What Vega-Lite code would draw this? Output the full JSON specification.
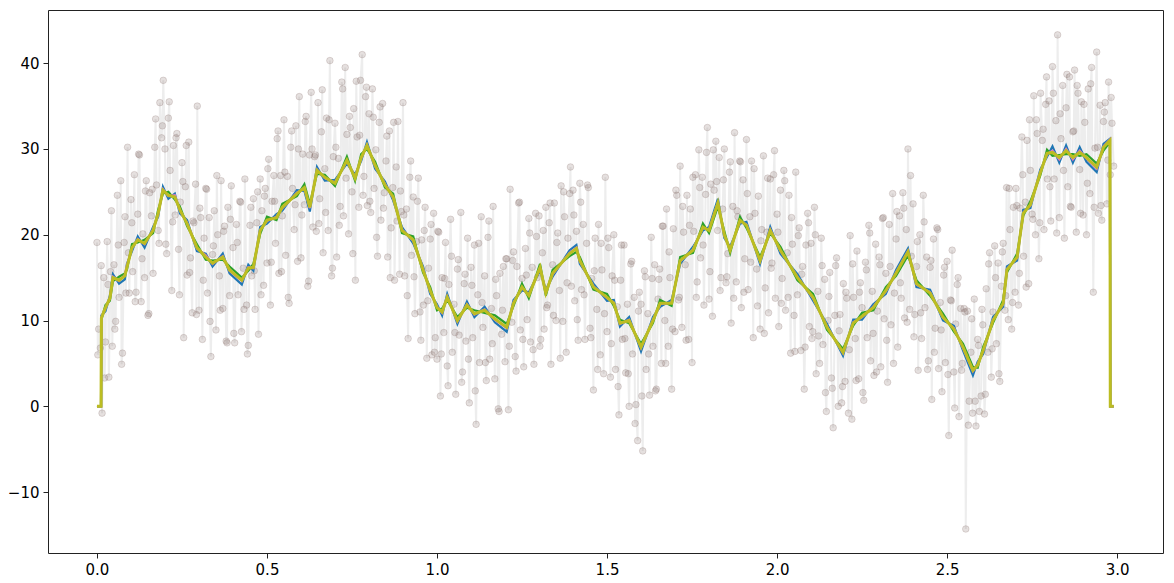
{
  "$schema": "https://vega.github.io/schema/vega-lite/v6.json",
  "autosize": {"type": "none"},
  "padding": {"left": 48, "top": 10, "right": 11, "bottom": 30},
  "width": 1115,
  "height": 543,
  "background": "white",
  "datasets": {
    "obs": [
      {"x":0.000,"y":19.1},{"x":0.005,"y":9.0},{"x":0.010,"y":6.8},{"x":0.015,"y":-0.8},{"x":0.020,"y":15.0},{"x":0.025,"y":7.5},{"x":0.030,"y":19.2},{"x":0.035,"y":3.4},{"x":0.040,"y":15.7},{"x":0.045,"y":7.0},
      {"x":0.050,"y":16.5},{"x":0.055,"y":9.9},{"x":0.060,"y":24.6},{"x":0.065,"y":12.7},{"x":0.070,"y":26.3},{"x":0.075,"y":6.2},{"x":0.080,"y":19.1},{"x":0.085,"y":13.2},{"x":0.090,"y":30.2},{"x":0.095,"y":13.2},
      {"x":0.100,"y":24.1},{"x":0.105,"y":15.7},{"x":0.110,"y":27.0},{"x":0.115,"y":13.3},{"x":0.120,"y":22.4},{"x":0.125,"y":29.3},{"x":0.130,"y":12.2},{"x":0.135,"y":20.1},{"x":0.140,"y":15.0},{"x":0.145,"y":26.3},
      {"x":0.150,"y":10.6},{"x":0.155,"y":24.9},{"x":0.160,"y":22.2},{"x":0.165,"y":15.5},{"x":0.170,"y":30.2},{"x":0.175,"y":25.8},{"x":0.180,"y":20.5},{"x":0.185,"y":35.4},{"x":0.190,"y":31.3},{"x":0.195,"y":38.0},
      {"x":0.200,"y":30.0},{"x":0.205,"y":17.8},{"x":0.210,"y":33.6},{"x":0.215,"y":27.5},{"x":0.220,"y":13.5},{"x":0.225,"y":30.4},{"x":0.230,"y":22.3},{"x":0.235,"y":31.8},{"x":0.240,"y":18.3},{"x":0.245,"y":23.8},
      {"x":0.250,"y":28.4},{"x":0.255,"y":8.0},{"x":0.260,"y":25.6},{"x":0.265,"y":15.3},{"x":0.270,"y":30.8},{"x":0.275,"y":17.3},{"x":0.280,"y":10.9},{"x":0.285,"y":21.4},{"x":0.290,"y":25.9},{"x":0.295,"y":35.0},
      {"x":0.300,"y":11.2},{"x":0.305,"y":22.0},{"x":0.310,"y":7.8},{"x":0.315,"y":19.6},{"x":0.320,"y":25.4},{"x":0.325,"y":13.2},{"x":0.330,"y":22.0},{"x":0.335,"y":5.8},{"x":0.340,"y":17.7},{"x":0.345,"y":22.8},
      {"x":0.350,"y":8.9},{"x":0.355,"y":20.0},{"x":0.360,"y":15.2},{"x":0.365,"y":26.3},{"x":0.370,"y":11.4},{"x":0.375,"y":21.0},{"x":0.380,"y":7.6},{"x":0.385,"y":23.2},{"x":0.390,"y":12.9},{"x":0.395,"y":25.7},
      {"x":0.400,"y":18.5},{"x":0.405,"y":7.4},{"x":0.410,"y":21.2},{"x":0.415,"y":13.0},{"x":0.420,"y":23.9},{"x":0.425,"y":8.7},{"x":0.430,"y":16.1},{"x":0.435,"y":26.5},{"x":0.440,"y":11.8},{"x":0.445,"y":7.1},
      {"x":0.450,"y":21.1},{"x":0.455,"y":15.2},{"x":0.460,"y":24.2},{"x":0.465,"y":11.3},{"x":0.470,"y":21.4},{"x":0.475,"y":8.4},{"x":0.480,"y":26.5},{"x":0.485,"y":22.8},{"x":0.490,"y":14.1},{"x":0.495,"y":25.4},
      {"x":0.500,"y":16.7},{"x":0.505,"y":28.8},{"x":0.510,"y":11.8},{"x":0.515,"y":23.9},{"x":0.520,"y":26.9},{"x":0.525,"y":19.0},{"x":0.530,"y":31.2},{"x":0.535,"y":15.5},{"x":0.540,"y":26.9},{"x":0.545,"y":22.2},
      {"x":0.550,"y":33.4},{"x":0.555,"y":17.6},{"x":0.560,"y":26.8},{"x":0.565,"y":12.0},{"x":0.570,"y":30.2},{"x":0.575,"y":25.4},{"x":0.580,"y":20.6},{"x":0.585,"y":32.7},{"x":0.590,"y":16.9},{"x":0.595,"y":36.1},
      {"x":0.600,"y":17.3},{"x":0.605,"y":29.4},{"x":0.610,"y":23.5},{"x":0.615,"y":33.8},{"x":0.620,"y":14.0},{"x":0.625,"y":29.3},{"x":0.630,"y":36.6},{"x":0.635,"y":20.9},{"x":0.640,"y":29.1},{"x":0.645,"y":20.4},
      {"x":0.650,"y":35.4},{"x":0.655,"y":24.2},{"x":0.660,"y":32.0},{"x":0.665,"y":17.9},{"x":0.670,"y":27.7},{"x":0.675,"y":33.6},{"x":0.680,"y":20.5},{"x":0.685,"y":40.3},{"x":0.690,"y":15.2},{"x":0.695,"y":29.1},
      {"x":0.700,"y":33.0},{"x":0.705,"y":17.4},{"x":0.710,"y":28.9},{"x":0.715,"y":23.3},{"x":0.720,"y":37.8},{"x":0.725,"y":22.2},{"x":0.730,"y":39.5},{"x":0.735,"y":31.7},{"x":0.740,"y":20.1},{"x":0.745,"y":32.5},
      {"x":0.750,"y":25.0},{"x":0.755,"y":34.7},{"x":0.760,"y":14.7},{"x":0.765,"y":31.4},{"x":0.770,"y":23.2},{"x":0.775,"y":38.0},{"x":0.780,"y":41.0},{"x":0.785,"y":26.8},{"x":0.790,"y":36.1},{"x":0.795,"y":23.4},
      {"x":0.800,"y":34.1},{"x":0.805,"y":22.6},{"x":0.810,"y":37.0},{"x":0.815,"y":25.4},{"x":0.820,"y":29.9},{"x":0.825,"y":17.5},{"x":0.830,"y":33.1},{"x":0.835,"y":21.7},{"x":0.840,"y":35.3},{"x":0.845,"y":24.9},
      {"x":0.850,"y":28.6},{"x":0.855,"y":17.4},{"x":0.860,"y":32.1},{"x":0.865,"y":20.8},{"x":0.870,"y":25.5},{"x":0.875,"y":14.7},{"x":0.880,"y":27.9},{"x":0.885,"y":33.2},{"x":0.890,"y":15.4},{"x":0.895,"y":22.7},
      {"x":0.900,"y":35.4},{"x":0.905,"y":15.2},{"x":0.910,"y":23.0},{"x":0.915,"y":7.9},{"x":0.920,"y":26.7},{"x":0.925,"y":17.6},{"x":0.930,"y":24.4},{"x":0.935,"y":10.8},{"x":0.940,"y":19.2},{"x":0.945,"y":26.6},
      {"x":0.950,"y":11.0},{"x":0.955,"y":19.4},{"x":0.960,"y":11.8},{"x":0.965,"y":23.2},{"x":0.970,"y":5.6},{"x":0.975,"y":16.1},{"x":0.980,"y":19.5},{"x":0.985,"y":6.0},{"x":0.990,"y":22.5},{"x":0.995,"y":8.0},
      {"x":1.000,"y":5.5},{"x":1.005,"y":20.3},{"x":1.010,"y":1.2},{"x":1.015,"y":15.0},{"x":1.020,"y":8.6},{"x":1.025,"y":19.1},{"x":1.030,"y":4.7},{"x":1.035,"y":14.2},{"x":1.040,"y":21.8},{"x":1.045,"y":6.3},
      {"x":1.050,"y":11.9},{"x":1.055,"y":1.4},{"x":1.060,"y":16.0},{"x":1.065,"y":8.3},{"x":1.070,"y":22.6},{"x":1.075,"y":4.0},{"x":1.080,"y":14.3},{"x":1.085,"y":7.6},{"x":1.090,"y":19.6},{"x":1.095,"y":0.4},
      {"x":1.100,"y":16.2},{"x":1.105,"y":8.0},{"x":1.110,"y":18.8},{"x":1.115,"y":-2.1},{"x":1.120,"y":13.0},{"x":1.125,"y":5.1},{"x":1.130,"y":22.1},{"x":1.135,"y":9.2},{"x":1.140,"y":15.2},{"x":1.145,"y":3.0},
      {"x":1.150,"y":19.7},{"x":1.155,"y":5.5},{"x":1.160,"y":11.4},{"x":1.165,"y":23.3},{"x":1.170,"y":3.2},{"x":1.175,"y":12.9},{"x":1.180,"y":-0.3},{"x":1.185,"y":15.5},{"x":1.190,"y":8.4},{"x":1.195,"y":16.3},
      {"x":1.200,"y":5.2},{"x":1.205,"y":17.2},{"x":1.210,"y":-0.4},{"x":1.215,"y":25.3},{"x":1.220,"y":9.8},{"x":1.225,"y":18.0},{"x":1.230,"y":5.8},{"x":1.235,"y":16.3},{"x":1.240,"y":23.7},{"x":1.245,"y":8.9},
      {"x":1.250,"y":14.9},{"x":1.255,"y":4.6},{"x":1.260,"y":18.4},{"x":1.265,"y":10.1},{"x":1.270,"y":21.9},{"x":1.275,"y":7.5},{"x":1.280,"y":16.2},{"x":1.285,"y":4.9},{"x":1.290,"y":22.5},{"x":1.295,"y":15.0},
      {"x":1.300,"y":22.2},{"x":1.305,"y":7.8},{"x":1.310,"y":17.9},{"x":1.315,"y":9.0},{"x":1.320,"y":23.2},{"x":1.325,"y":11.8},{"x":1.330,"y":21.4},{"x":1.335,"y":4.9},{"x":1.340,"y":16.5},{"x":1.345,"y":23.7},
      {"x":1.350,"y":10.0},{"x":1.355,"y":20.2},{"x":1.360,"y":13.5},{"x":1.365,"y":25.7},{"x":1.370,"y":9.9},{"x":1.375,"y":22.1},{"x":1.380,"y":6.3},{"x":1.385,"y":19.6},{"x":1.390,"y":24.8},{"x":1.395,"y":14.0},
      {"x":1.400,"y":25.2},{"x":1.405,"y":12.3},{"x":1.410,"y":20.4},{"x":1.415,"y":7.7},{"x":1.420,"y":26.0},{"x":1.425,"y":13.6},{"x":1.430,"y":21.2},{"x":1.435,"y":7.8},{"x":1.440,"y":19.0},{"x":1.445,"y":25.5},
      {"x":1.450,"y":9.1},{"x":1.455,"y":14.9},{"x":1.460,"y":1.9},{"x":1.465,"y":19.6},{"x":1.470,"y":11.3},{"x":1.475,"y":21.2},{"x":1.480,"y":6.0},{"x":1.485,"y":15.9},{"x":1.490,"y":3.8},{"x":1.495,"y":26.7},
      {"x":1.500,"y":8.7},{"x":1.505,"y":18.5},{"x":1.510,"y":3.4},{"x":1.515,"y":15.2},{"x":1.520,"y":20.0},{"x":1.525,"y":4.3},{"x":1.530,"y":11.6},{"x":1.535,"y":-1.0},{"x":1.540,"y":14.7},{"x":1.545,"y":7.8},
      {"x":1.550,"y":18.8},{"x":1.555,"y":3.9},{"x":1.560,"y":11.9},{"x":1.565,"y":0.0},{"x":1.570,"y":16.6},{"x":1.575,"y":6.1},{"x":1.580,"y":12.7},{"x":1.585,"y":0.2},{"x":1.590,"y":-4.0},{"x":1.595,"y":13.3},
      {"x":1.600,"y":11.9},{"x":1.605,"y":-5.2},{"x":1.610,"y":15.8},{"x":1.615,"y":4.3},{"x":1.620,"y":10.8},{"x":1.625,"y":1.3},{"x":1.630,"y":19.7},{"x":1.635,"y":7.0},{"x":1.640,"y":16.5},{"x":1.645,"y":2.0},
      {"x":1.650,"y":12.5},{"x":1.655,"y":16.0},{"x":1.660,"y":5.0},{"x":1.665,"y":21.0},{"x":1.670,"y":10.0},{"x":1.675,"y":23.0},{"x":1.680,"y":7.0},{"x":1.685,"y":15.0},{"x":1.690,"y":2.0},{"x":1.695,"y":20.7},
      {"x":1.700,"y":8.7},{"x":1.705,"y":24.6},{"x":1.710,"y":12.4},{"x":1.715,"y":28.0},{"x":1.720,"y":9.2},{"x":1.725,"y":20.3},{"x":1.730,"y":16.5},{"x":1.735,"y":24.6},{"x":1.740,"y":7.8},{"x":1.745,"y":23.0},
      {"x":1.750,"y":5.1},{"x":1.755,"y":20.4},{"x":1.760,"y":27.0},{"x":1.765,"y":14.5},{"x":1.770,"y":29.9},{"x":1.775,"y":17.3},{"x":1.780,"y":26.7},{"x":1.785,"y":11.8},{"x":1.790,"y":24.7},{"x":1.795,"y":32.5},
      {"x":1.800,"y":12.5},{"x":1.805,"y":25.9},{"x":1.810,"y":10.5},{"x":1.815,"y":25.2},{"x":1.820,"y":30.9},{"x":1.825,"y":20.5},{"x":1.830,"y":29.0},{"x":1.835,"y":15.0},{"x":1.840,"y":23.0},{"x":1.845,"y":30.0},
      {"x":1.850,"y":14.4},{"x":1.855,"y":17.8},{"x":1.860,"y":27.3},{"x":1.865,"y":9.7},{"x":1.870,"y":23.3},{"x":1.875,"y":31.9},{"x":1.880,"y":14.5},{"x":1.885,"y":22.1},{"x":1.890,"y":28.6},{"x":1.895,"y":11.5},
      {"x":1.900,"y":26.4},{"x":1.905,"y":17.2},{"x":1.910,"y":31.1},{"x":1.915,"y":13.6},{"x":1.920,"y":22.1},{"x":1.925,"y":28.6},{"x":1.930,"y":8.0},{"x":1.935,"y":22.5},{"x":1.940,"y":16.0},{"x":1.945,"y":24.5},
      {"x":1.950,"y":9.0},{"x":1.955,"y":20.6},{"x":1.960,"y":29.2},{"x":1.965,"y":13.8},{"x":1.970,"y":20.3},{"x":1.975,"y":10.9},{"x":1.980,"y":26.5},{"x":1.985,"y":16.7},{"x":1.990,"y":27.0},{"x":1.995,"y":12.6},
      {"x":2.000,"y":22.4},{"x":2.005,"y":9.3},{"x":2.010,"y":25.2},{"x":2.015,"y":14.9},{"x":2.020,"y":27.5},{"x":2.025,"y":11.2},{"x":2.030,"y":17.9},{"x":2.035,"y":24.6},{"x":2.040,"y":6.2},{"x":2.045,"y":18.9},
      {"x":2.050,"y":10.6},{"x":2.055,"y":27.3},{"x":2.060,"y":13.0},{"x":2.065,"y":20.8},{"x":2.070,"y":6.5},{"x":2.075,"y":16.3},{"x":2.080,"y":2.0},{"x":2.085,"y":18.8},{"x":2.090,"y":22.5},{"x":2.095,"y":9.3},
      {"x":2.100,"y":19.0},{"x":2.105,"y":8.7},{"x":2.110,"y":23.2},{"x":2.115,"y":3.8},{"x":2.120,"y":13.4},{"x":2.125,"y":5.0},{"x":2.130,"y":19.6},{"x":2.135,"y":7.2},{"x":2.140,"y":14.8},{"x":2.145,"y":-0.6},
      {"x":2.150,"y":10.0},{"x":2.155,"y":15.6},{"x":2.160,"y":3.3},{"x":2.165,"y":-2.5},{"x":2.170,"y":10.6},{"x":2.175,"y":17.3},{"x":2.180,"y":0.0},{"x":2.185,"y":10.7},{"x":2.190,"y":0.4},{"x":2.195,"y":14.3},
      {"x":2.200,"y":2.9},{"x":2.205,"y":12.6},{"x":2.210,"y":-0.8},{"x":2.215,"y":19.9},{"x":2.220,"y":-1.5},{"x":2.225,"y":12.7},{"x":2.230,"y":7.9},{"x":2.235,"y":18.1},{"x":2.240,"y":3.2},{"x":2.245,"y":14.4},
      {"x":2.250,"y":11.5},{"x":2.255,"y":0.7},{"x":2.260,"y":16.8},{"x":2.265,"y":8.0},{"x":2.270,"y":21.1},{"x":2.275,"y":5.3},{"x":2.280,"y":13.4},{"x":2.285,"y":3.6},{"x":2.290,"y":18.9},{"x":2.295,"y":11.1},
      {"x":2.300,"y":17.4},{"x":2.305,"y":4.6},{"x":2.310,"y":21.9},{"x":2.315,"y":10.2},{"x":2.320,"y":15.5},{"x":2.325,"y":2.8},{"x":2.330,"y":21.2},{"x":2.335,"y":9.5},{"x":2.340,"y":24.8},{"x":2.345,"y":13.2},
      {"x":2.350,"y":19.5},{"x":2.355,"y":6.9},{"x":2.360,"y":22.2},{"x":2.365,"y":12.6},{"x":2.370,"y":24.9},{"x":2.375,"y":10.3},{"x":2.380,"y":20.6},{"x":2.385,"y":30.0},{"x":2.390,"y":11.3},{"x":2.395,"y":17.5},
      {"x":2.400,"y":23.6},{"x":2.405,"y":10.7},{"x":2.410,"y":16.3},{"x":2.415,"y":4.2},{"x":2.420,"y":20.0},{"x":2.425,"y":7.9},{"x":2.430,"y":24.6},{"x":2.435,"y":11.5},{"x":2.440,"y":17.4},{"x":2.445,"y":5.3},
      {"x":2.450,"y":16.2},{"x":2.455,"y":0.8},{"x":2.460,"y":19.5},{"x":2.465,"y":9.1},{"x":2.470,"y":20.8},{"x":2.475,"y":4.4},{"x":2.480,"y":12.1},{"x":2.485,"y":1.7},{"x":2.490,"y":15.3},{"x":2.495,"y":5.1},
      {"x":2.500,"y":16.9},{"x":2.505,"y":-3.4},{"x":2.510,"y":12.4},{"x":2.515,"y":18.2},{"x":2.520,"y":4.0},{"x":2.525,"y":9.6},{"x":2.530,"y":14.2},{"x":2.535,"y":-1.2},{"x":2.540,"y":11.4},{"x":2.545,"y":5.0},
      {"x":2.550,"y":11.4},{"x":2.555,"y":-14.3},{"x":2.560,"y":11.1},{"x":2.565,"y":0.6},{"x":2.570,"y":6.3},{"x":2.575,"y":-0.8},{"x":2.580,"y":12.5},{"x":2.585,"y":-2.3},{"x":2.590,"y":7.8},{"x":2.595,"y":-0.6},
      {"x":2.600,"y":1.2},{"x":2.605,"y":9.5},{"x":2.610,"y":-0.9},{"x":2.615,"y":13.7},{"x":2.620,"y":6.3},{"x":2.625,"y":17.9},{"x":2.630,"y":3.4},{"x":2.635,"y":11.0},{"x":2.640,"y":18.7},{"x":2.645,"y":7.3},
      {"x":2.650,"y":16.7},{"x":2.655,"y":2.9},{"x":2.660,"y":14.0},{"x":2.665,"y":19.0},{"x":2.670,"y":11.2},{"x":2.675,"y":25.5},{"x":2.680,"y":10.1},{"x":2.685,"y":20.6},{"x":2.690,"y":9.0},{"x":2.695,"y":23.2},
      {"x":2.700,"y":13.3},{"x":2.705,"y":23.4},{"x":2.710,"y":11.8},{"x":2.715,"y":23.1},{"x":2.720,"y":31.4},{"x":2.725,"y":17.5},{"x":2.730,"y":23.8},{"x":2.735,"y":31.0},{"x":2.740,"y":14.3},{"x":2.745,"y":27.5},
      {"x":2.750,"y":22.4},{"x":2.755,"y":36.2},{"x":2.760,"y":20.0},{"x":2.765,"y":31.8},{"x":2.770,"y":17.2},{"x":2.775,"y":36.5},{"x":2.780,"y":31.0},{"x":2.785,"y":20.6},{"x":2.790,"y":35.2},{"x":2.795,"y":26.5},
      {"x":2.800,"y":35.6},{"x":2.805,"y":21.6},{"x":2.810,"y":39.6},{"x":2.815,"y":26.5},{"x":2.820,"y":33.3},{"x":2.825,"y":43.3},{"x":2.830,"y":22.0},{"x":2.835,"y":31.2},{"x":2.840,"y":37.4},{"x":2.845,"y":19.6},
      {"x":2.850,"y":34.8},{"x":2.855,"y":25.6},{"x":2.860,"y":38.4},{"x":2.865,"y":23.2},{"x":2.870,"y":32.0},{"x":2.875,"y":39.2},{"x":2.880,"y":20.3},{"x":2.885,"y":36.5},{"x":2.890,"y":27.6},{"x":2.895,"y":35.5},
      {"x":2.900,"y":22.3},{"x":2.905,"y":33.1},{"x":2.910,"y":20.0},{"x":2.915,"y":37.0},{"x":2.920,"y":24.8},{"x":2.925,"y":39.5},{"x":2.930,"y":13.3},{"x":2.935,"y":30.1},{"x":2.940,"y":41.3},{"x":2.945,"y":22.5},
      {"x":2.950,"y":35.1},{"x":2.955,"y":21.7},{"x":2.960,"y":33.2},{"x":2.965,"y":35.4},{"x":2.970,"y":23.6},{"x":2.975,"y":37.8},{"x":2.980,"y":27.0},{"x":2.985,"y":33.0},{"x":2.990,"y":28.0},
      {"x":0.0025,"y":6.0},{"x":0.0125,"y":16.4},{"x":0.0225,"y":3.3},{"x":0.0325,"y":14.2},{"x":0.0425,"y":22.8},{"x":0.0525,"y":9.0},{"x":0.0625,"y":18.8},{"x":0.0725,"y":4.9},{"x":0.0825,"y":22.1},{"x":0.0925,"y":17.9},
      {"x":0.1025,"y":21.4},{"x":0.1125,"y":12.2},{"x":0.1225,"y":29.4},{"x":0.1325,"y":17.2},{"x":0.1425,"y":25.1},{"x":0.1525,"y":10.8},{"x":0.1625,"y":25.3},{"x":0.1725,"y":33.5},{"x":0.1825,"y":19.0},{"x":0.1925,"y":32.7},
      {"x":0.2025,"y":18.9},{"x":0.2125,"y":35.5},{"x":0.2225,"y":21.5},{"x":0.2325,"y":31.3},{"x":0.2425,"y":13.0},{"x":0.2525,"y":26.2},{"x":0.2625,"y":30.4},{"x":0.2725,"y":15.6},{"x":0.2825,"y":21.6},{"x":0.2925,"y":10.7},
      {"x":0.3025,"y":23.1},{"x":0.3125,"y":14.7},{"x":0.3225,"y":25.3},{"x":0.3325,"y":9.9},{"x":0.3425,"y":18.7},{"x":0.3525,"y":26.9},{"x":0.3625,"y":11.2},{"x":0.3725,"y":20.4},{"x":0.3825,"y":7.4},{"x":0.3925,"y":21.8},
      {"x":0.4025,"y":8.5},{"x":0.4125,"y":19.1},{"x":0.4225,"y":23.8},{"x":0.4325,"y":11.3},{"x":0.4425,"y":6.1},{"x":0.4525,"y":23.2},{"x":0.4625,"y":15.8},{"x":0.4725,"y":25.0},{"x":0.4825,"y":13.0},{"x":0.4925,"y":24.5},
      {"x":0.5025,"y":27.7},{"x":0.5125,"y":16.8},{"x":0.5225,"y":23.9},{"x":0.5325,"y":32.1},{"x":0.5425,"y":15.7},{"x":0.5525,"y":27.3},{"x":0.5625,"y":12.7},{"x":0.5725,"y":32.1},{"x":0.5825,"y":23.5},{"x":0.5925,"y":30.0},
      {"x":0.6025,"y":22.3},{"x":0.6125,"y":33.2},{"x":0.6225,"y":14.6},{"x":0.6325,"y":30.0},{"x":0.6425,"y":29.3},{"x":0.6525,"y":21.3},{"x":0.6625,"y":36.9},{"x":0.6725,"y":22.6},{"x":0.6825,"y":33.4},{"x":0.6925,"y":16.1},
      {"x":0.7025,"y":30.2},{"x":0.7125,"y":21.1},{"x":0.7225,"y":37.0},{"x":0.7325,"y":26.6},{"x":0.7425,"y":33.8},{"x":0.7525,"y":17.8},{"x":0.7625,"y":37.9},{"x":0.7725,"y":31.6},{"x":0.7825,"y":24.6},{"x":0.7925,"y":37.2},
      {"x":0.8025,"y":23.9},{"x":0.8125,"y":33.7},{"x":0.8225,"y":19.7},{"x":0.8325,"y":34.9},{"x":0.8425,"y":23.1},{"x":0.8525,"y":31.5},{"x":0.8625,"y":15.0},{"x":0.8725,"y":33.1},{"x":0.8825,"y":21.6},{"x":0.8925,"y":25.1},
      {"x":0.9025,"y":22.3},{"x":0.9125,"y":12.9},{"x":0.9225,"y":28.6},{"x":0.9325,"y":15.1},{"x":0.9425,"y":23.9},{"x":0.9525,"y":7.7},{"x":0.9625,"y":20.5},{"x":0.9725,"y":12.3},{"x":0.9825,"y":21.2},{"x":0.9925,"y":6.3},
      {"x":1.0025,"y":20.4},{"x":1.0125,"y":6.1},{"x":1.0225,"y":14.9},{"x":1.0325,"y":2.4},{"x":1.0425,"y":17.5},{"x":1.0525,"y":8.6},{"x":1.0625,"y":17.1},{"x":1.0725,"y":2.8},{"x":1.0825,"y":15.4},{"x":1.0925,"y":5.5},
      {"x":1.1025,"y":14.1},{"x":1.1125,"y":1.8},{"x":1.1225,"y":19.0},{"x":1.1325,"y":12.1},{"x":1.1425,"y":5.1},{"x":1.1525,"y":21.6},{"x":1.1625,"y":7.3},{"x":1.1725,"y":14.8},{"x":1.1825,"y":-0.6},{"x":1.1925,"y":11.2},
      {"x":1.2025,"y":17.2},{"x":1.2125,"y":7.0},{"x":1.2225,"y":17.0},{"x":1.2325,"y":4.1},{"x":1.2425,"y":23.8},{"x":1.2525,"y":7.8},{"x":1.2625,"y":15.3},{"x":1.2725,"y":20.2},{"x":1.2825,"y":6.6},{"x":1.2925,"y":19.8},
      {"x":1.3025,"y":7.0},{"x":1.3125,"y":20.5},{"x":1.3225,"y":11.5},{"x":1.3325,"y":23.7},{"x":1.3425,"y":10.6},{"x":1.3525,"y":19.1},{"x":1.3625,"y":5.6},{"x":1.3725,"y":25.0},{"x":1.3825,"y":14.4},{"x":1.3925,"y":27.9},
      {"x":1.4025,"y":22.3},{"x":1.4125,"y":10.1},{"x":1.4225,"y":23.8},{"x":1.4325,"y":13.0},{"x":1.4425,"y":25.8},{"x":1.4525,"y":8.0},{"x":1.4625,"y":15.8},{"x":1.4725,"y":4.3},{"x":1.4825,"y":19.0},{"x":1.4925,"y":10.8},
      {"x":1.5025,"y":19.6},{"x":1.5125,"y":7.3},{"x":1.5225,"y":14.7},{"x":1.5325,"y":2.3},{"x":1.5425,"y":18.8},{"x":1.5525,"y":7.9},{"x":1.5625,"y":3.8},{"x":1.5725,"y":16.9},{"x":1.5825,"y":-2.0},{"x":1.5925,"y":11.1},
      {"x":1.6025,"y":1.2},{"x":1.6125,"y":15.1},{"x":1.6225,"y":6.1},{"x":1.6325,"y":14.9},{"x":1.6425,"y":1.8},{"x":1.6525,"y":14.8},{"x":1.6625,"y":21.0},{"x":1.6725,"y":5.0},{"x":1.6825,"y":18.0},{"x":1.6925,"y":9.0},
      {"x":1.7025,"y":25.2},{"x":1.7125,"y":12.7},{"x":1.7225,"y":23.3},{"x":1.7325,"y":7.7},{"x":1.7425,"y":21.1},{"x":1.7525,"y":26.7},{"x":1.7625,"y":12.7},{"x":1.7725,"y":25.5},{"x":1.7825,"y":18.8},{"x":1.7925,"y":29.6},
      {"x":1.8025,"y":15.7},{"x":1.8125,"y":29.9},{"x":1.8225,"y":26.2},{"x":1.8325,"y":13.5},{"x":1.8425,"y":26.4},{"x":1.8525,"y":15.1},{"x":1.8625,"y":28.5},{"x":1.8725,"y":12.6},{"x":1.8825,"y":22.8},{"x":1.8925,"y":28.5},
      {"x":1.9025,"y":13.3},{"x":1.9125,"y":24.8},{"x":1.9225,"y":16.8},{"x":1.9325,"y":27.7},{"x":1.9425,"y":11.7},{"x":1.9525,"y":19.3},{"x":1.9625,"y":8.5},{"x":1.9725,"y":26.6},{"x":1.9825,"y":16.1},{"x":1.9925,"y":29.8},
      {"x":2.0025,"y":20.3},{"x":2.0125,"y":12.0},{"x":2.0225,"y":26.3},{"x":2.0325,"y":12.7},{"x":2.0425,"y":22.0},{"x":2.0525,"y":6.4},{"x":2.0625,"y":19.9},{"x":2.0725,"y":15.4},{"x":2.0825,"y":6.9},{"x":2.0925,"y":21.4},
      {"x":2.1025,"y":7.9},{"x":2.1125,"y":20.0},{"x":2.1225,"y":8.2},{"x":2.1325,"y":16.4},{"x":2.1425,"y":1.6},{"x":2.1525,"y":12.8},{"x":2.1625,"y":2.1},{"x":2.1725,"y":16.4},{"x":2.1825,"y":8.8},{"x":2.1925,"y":2.3},
      {"x":2.2025,"y":13.3},{"x":2.2125,"y":6.6},{"x":2.2225,"y":16.6},{"x":2.2325,"y":3.0},{"x":2.2425,"y":13.3},{"x":2.2525,"y":1.6},{"x":2.2625,"y":15.9},{"x":2.2725,"y":20.2},{"x":2.2825,"y":8.5},{"x":2.2925,"y":4.0},
      {"x":2.3025,"y":16.5},{"x":2.3125,"y":22.0},{"x":2.3225,"y":7.7},{"x":2.3325,"y":16.3},{"x":2.3425,"y":5.0},{"x":2.3525,"y":22.7},{"x":2.3625,"y":14.4},{"x":2.3725,"y":23.1},{"x":2.3825,"y":9.8},{"x":2.3925,"y":26.9},
      {"x":2.4025,"y":8.1},{"x":2.4125,"y":19.2},{"x":2.4225,"y":10.9},{"x":2.4325,"y":21.5},{"x":2.4425,"y":4.3},{"x":2.4525,"y":17.0},{"x":2.4625,"y":6.3},{"x":2.4725,"y":20.6},{"x":2.4825,"y":8.9},{"x":2.4925,"y":16.2},
      {"x":2.5025,"y":3.7},{"x":2.5125,"y":12.3},{"x":2.5225,"y":-0.2},{"x":2.5325,"y":15.0},{"x":2.5425,"y":4.2},{"x":2.5525,"y":11.0},{"x":2.5625,"y":-2.2},{"x":2.5725,"y":10.2},{"x":2.5825,"y":0.6},{"x":2.5925,"y":7.1},
      {"x":2.6025,"y":11.3},{"x":2.6125,"y":1.4},{"x":2.6225,"y":16.6},{"x":2.6325,"y":6.7},{"x":2.6425,"y":15.0},{"x":2.6525,"y":3.8},{"x":2.6625,"y":18.0},{"x":2.6725,"y":12.9},{"x":2.6825,"y":25.4},{"x":2.6925,"y":12.1},
      {"x":2.7025,"y":25.4},{"x":2.7125,"y":15.5},{"x":2.7225,"y":27.0},{"x":2.7325,"y":13.9},{"x":2.7425,"y":33.4},{"x":2.7525,"y":21.8},{"x":2.7625,"y":33.4},{"x":2.7725,"y":21.4},{"x":2.7825,"y":32.3},{"x":2.7925,"y":38.4},
      {"x":2.8025,"y":25.6},{"x":2.8125,"y":36.5},{"x":2.8225,"y":20.2},{"x":2.8325,"y":34.1},{"x":2.8425,"y":27.5},{"x":2.8525,"y":38.7},{"x":2.8625,"y":23.3},{"x":2.8725,"y":32.1},{"x":2.8825,"y":37.4},{"x":2.8925,"y":22.5},
      {"x":2.9025,"y":35.2},{"x":2.9125,"y":26.0},{"x":2.9225,"y":37.6},{"x":2.9325,"y":23.2},{"x":2.9425,"y":30.2},{"x":2.9525,"y":23.4},{"x":2.9625,"y":34.3},{"x":2.9725,"y":28.7},{"x":2.9825,"y":36.0}
    ],
    "sm": [
      {"x":0.000,"o":0,"b":0,"g":0,"p":0},
      {"x":0.012,"o":0,"b":0,"g":0,"p":0},
      {"x":0.013,"o":10.3,"b":10.6,"g":10.1,"p":10.4},
      {"x":0.025,"o":11.5,"b":11.1,"g":11.8,"p":11.4},
      {"x":0.038,"o":12.6,"b":12.9,"g":12.3,"p":12.7},
      {"x":0.047,"o":15.0,"b":15.4,"g":14.6,"p":15.1},
      {"x":0.065,"o":14.7,"b":14.3,"g":15.1,"p":14.6},
      {"x":0.082,"o":15.2,"b":14.8,"g":15.5,"p":15.3},
      {"x":0.088,"o":16.2,"b":16.6,"g":15.9,"p":16.4},
      {"x":0.103,"o":18.5,"b":18.1,"g":18.9,"p":18.4},
      {"x":0.120,"o":19.4,"b":19.8,"g":19.1,"p":19.5},
      {"x":0.140,"o":19.0,"b":18.5,"g":19.4,"p":18.9},
      {"x":0.165,"o":20.5,"b":20.9,"g":20.2,"p":20.6},
      {"x":0.180,"o":22.5,"b":22.1,"g":22.9,"p":22.4},
      {"x":0.194,"o":25.2,"b":25.6,"g":24.8,"p":25.3},
      {"x":0.210,"o":24.6,"b":24.2,"g":25.0,"p":24.5},
      {"x":0.229,"o":24.4,"b":24.8,"g":24.1,"p":24.6},
      {"x":0.244,"o":22.9,"b":22.5,"g":23.3,"p":22.8},
      {"x":0.265,"o":21.3,"b":21.7,"g":21.0,"p":21.4},
      {"x":0.294,"o":18.5,"b":18.1,"g":18.9,"p":18.4},
      {"x":0.320,"o":17.4,"b":17.8,"g":17.1,"p":17.6},
      {"x":0.340,"o":16.7,"b":16.3,"g":17.0,"p":16.6},
      {"x":0.370,"o":17.4,"b":17.8,"g":17.1,"p":17.5},
      {"x":0.390,"o":15.9,"b":15.5,"g":16.3,"p":15.8},
      {"x":0.426,"o":14.7,"b":14.2,"g":15.0,"p":14.6},
      {"x":0.445,"o":16.1,"b":16.5,"g":15.8,"p":16.2},
      {"x":0.460,"o":16.2,"b":15.8,"g":16.6,"p":16.1},
      {"x":0.480,"o":20.5,"b":20.9,"g":20.1,"p":20.6},
      {"x":0.500,"o":21.7,"b":21.3,"g":22.1,"p":21.6},
      {"x":0.528,"o":22.0,"b":22.4,"g":21.7,"p":22.1},
      {"x":0.545,"o":23.2,"b":22.8,"g":23.6,"p":23.1},
      {"x":0.588,"o":24.8,"b":25.2,"g":24.5,"p":24.9},
      {"x":0.610,"o":25.5,"b":25.1,"g":25.9,"p":25.4},
      {"x":0.626,"o":23.2,"b":22.7,"g":23.6,"p":23.1},
      {"x":0.647,"o":27.5,"b":27.9,"g":27.1,"p":27.6},
      {"x":0.670,"o":26.7,"b":26.3,"g":27.0,"p":26.6},
      {"x":0.700,"o":26.0,"b":26.4,"g":25.7,"p":26.1},
      {"x":0.735,"o":28.7,"b":28.3,"g":29.1,"p":28.6},
      {"x":0.759,"o":26.6,"b":27.0,"g":26.3,"p":26.7},
      {"x":0.777,"o":29.0,"b":28.6,"g":29.4,"p":28.9},
      {"x":0.794,"o":30.4,"b":30.8,"g":30.0,"p":30.5},
      {"x":0.818,"o":28.1,"b":27.7,"g":28.5,"p":28.0},
      {"x":0.847,"o":25.8,"b":26.2,"g":25.5,"p":25.9},
      {"x":0.871,"o":24.4,"b":24.0,"g":24.8,"p":24.3},
      {"x":0.897,"o":20.5,"b":20.9,"g":20.2,"p":20.6},
      {"x":0.930,"o":19.4,"b":19.0,"g":19.8,"p":19.3},
      {"x":0.959,"o":15.9,"b":16.3,"g":15.6,"p":16.0},
      {"x":0.980,"o":13.5,"b":13.1,"g":13.9,"p":13.4},
      {"x":1.000,"o":11.5,"b":11.9,"g":11.2,"p":11.6},
      {"x":1.015,"o":11.0,"b":10.6,"g":11.4,"p":10.9},
      {"x":1.030,"o":12.7,"b":13.1,"g":12.4,"p":12.8},
      {"x":1.060,"o":10.0,"b":9.6,"g":10.4,"p":9.9},
      {"x":1.088,"o":11.8,"b":12.2,"g":11.5,"p":11.9},
      {"x":1.110,"o":10.8,"b":10.4,"g":11.2,"p":10.7},
      {"x":1.140,"o":11.2,"b":11.6,"g":10.9,"p":11.3},
      {"x":1.170,"o":10.2,"b":9.8,"g":10.6,"p":10.1},
      {"x":1.205,"o":9.2,"b":8.7,"g":9.6,"p":9.1},
      {"x":1.225,"o":12.0,"b":12.4,"g":11.7,"p":12.1},
      {"x":1.250,"o":13.9,"b":13.5,"g":14.3,"p":13.8},
      {"x":1.270,"o":12.9,"b":13.3,"g":12.6,"p":13.0},
      {"x":1.303,"o":16.2,"b":15.8,"g":16.6,"p":16.1},
      {"x":1.320,"o":13.2,"b":13.6,"g":12.9,"p":13.3},
      {"x":1.340,"o":15.5,"b":15.1,"g":15.9,"p":15.4},
      {"x":1.390,"o":17.8,"b":18.2,"g":17.5,"p":17.9},
      {"x":1.410,"o":18.4,"b":18.8,"g":18.0,"p":18.5},
      {"x":1.420,"o":17.0,"b":16.6,"g":17.4,"p":16.9},
      {"x":1.460,"o":13.9,"b":14.3,"g":13.6,"p":14.0},
      {"x":1.500,"o":12.7,"b":12.3,"g":13.1,"p":12.6},
      {"x":1.520,"o":12.0,"b":12.4,"g":11.7,"p":12.1},
      {"x":1.538,"o":9.7,"b":9.3,"g":10.1,"p":9.6},
      {"x":1.565,"o":10.0,"b":10.4,"g":9.7,"p":10.1},
      {"x":1.600,"o":6.9,"b":6.4,"g":7.3,"p":6.8},
      {"x":1.635,"o":10.0,"b":10.4,"g":9.7,"p":10.1},
      {"x":1.656,"o":12.0,"b":11.6,"g":12.4,"p":11.9},
      {"x":1.690,"o":12.0,"b":12.4,"g":11.7,"p":12.1},
      {"x":1.715,"o":17.0,"b":16.6,"g":17.4,"p":16.9},
      {"x":1.753,"o":18.2,"b":18.6,"g":17.9,"p":18.3},
      {"x":1.782,"o":20.9,"b":20.5,"g":21.3,"p":20.8},
      {"x":1.800,"o":20.5,"b":20.9,"g":20.2,"p":20.6},
      {"x":1.826,"o":23.7,"b":24.2,"g":23.3,"p":23.8},
      {"x":1.845,"o":20.0,"b":19.6,"g":20.4,"p":19.9},
      {"x":1.862,"o":18.2,"b":18.6,"g":17.9,"p":18.3},
      {"x":1.891,"o":21.7,"b":21.3,"g":22.1,"p":21.6},
      {"x":1.910,"o":21.1,"b":21.5,"g":20.8,"p":21.2},
      {"x":1.950,"o":17.0,"b":16.6,"g":17.4,"p":16.9},
      {"x":1.980,"o":20.5,"b":20.9,"g":20.2,"p":20.6},
      {"x":2.010,"o":18.2,"b":17.8,"g":18.6,"p":18.1},
      {"x":2.060,"o":15.0,"b":15.4,"g":14.7,"p":15.1},
      {"x":2.106,"o":12.7,"b":12.3,"g":13.1,"p":12.6},
      {"x":2.147,"o":9.2,"b":9.6,"g":8.9,"p":9.3},
      {"x":2.194,"o":6.3,"b":5.9,"g":6.7,"p":6.2},
      {"x":2.224,"o":9.7,"b":10.1,"g":9.4,"p":9.8},
      {"x":2.250,"o":10.5,"b":10.1,"g":10.9,"p":10.4},
      {"x":2.283,"o":11.5,"b":11.9,"g":11.2,"p":11.6},
      {"x":2.320,"o":13.5,"b":13.1,"g":13.9,"p":13.4},
      {"x":2.350,"o":15.5,"b":15.9,"g":15.2,"p":15.6},
      {"x":2.385,"o":18.0,"b":18.4,"g":17.6,"p":18.1},
      {"x":2.410,"o":14.3,"b":13.9,"g":14.7,"p":14.2},
      {"x":2.450,"o":13.2,"b":13.6,"g":12.9,"p":13.3},
      {"x":2.488,"o":10.4,"b":10.0,"g":10.8,"p":10.3},
      {"x":2.520,"o":9.0,"b":9.4,"g":8.7,"p":9.1},
      {"x":2.547,"o":6.9,"b":6.5,"g":7.3,"p":6.8},
      {"x":2.576,"o":4.2,"b":3.6,"g":4.6,"p":4.1},
      {"x":2.590,"o":4.8,"b":5.2,"g":4.5,"p":4.9},
      {"x":2.606,"o":6.5,"b":6.1,"g":6.9,"p":6.4},
      {"x":2.635,"o":10.0,"b":10.4,"g":9.7,"p":10.1},
      {"x":2.665,"o":12.0,"b":11.6,"g":12.4,"p":11.9},
      {"x":2.676,"o":15.9,"b":16.3,"g":15.6,"p":16.0},
      {"x":2.706,"o":17.4,"b":17.0,"g":17.8,"p":17.3},
      {"x":2.724,"o":22.5,"b":22.9,"g":22.2,"p":22.6},
      {"x":2.745,"o":23.5,"b":23.1,"g":23.9,"p":23.4},
      {"x":2.774,"o":27.2,"b":27.6,"g":26.9,"p":27.3},
      {"x":2.794,"o":29.5,"b":29.1,"g":29.9,"p":29.4},
      {"x":2.810,"o":29.6,"b":30.3,"g":29.2,"p":29.8},
      {"x":2.830,"o":29.0,"b":28.4,"g":29.3,"p":28.8},
      {"x":2.850,"o":29.8,"b":30.4,"g":29.4,"p":30.0},
      {"x":2.870,"o":29.0,"b":28.4,"g":29.4,"p":28.8},
      {"x":2.890,"o":29.6,"b":30.2,"g":29.2,"p":29.8},
      {"x":2.910,"o":29.0,"b":28.5,"g":29.4,"p":28.9},
      {"x":2.940,"o":27.9,"b":27.3,"g":28.3,"p":27.7},
      {"x":2.960,"o":30.2,"b":30.6,"g":29.8,"p":30.3},
      {"x":2.979,"o":31.0,"b":31.2,"g":30.8,"p":31.1},
      {"x":2.980,"o":0,"b":0,"g":0,"p":0},
      {"x":2.990,"o":0,"b":0,"g":0,"p":0}
    ]
  },
  "encoding": {
    "x": {
      "field": "x",
      "type": "quantitative",
      "scale": {"domain": [-0.144, 3.135], "nice": false, "zero": false},
      "axis": {"values": [0, 0.5, 1, 1.5, 2, 2.5, 3], "format": ".1f", "title": null}
    }
  },
  "layer": [
    {
      "data": {"name": "obs"},
      "mark": {"type": "line", "color": "#7f7f7f", "opacity": 0.14, "strokeWidth": 2},
      "encoding": {
        "y": {
          "field": "y",
          "type": "quantitative",
          "scale": {"domain": [-17.1, 46.2], "nice": false, "zero": false},
          "axis": {"values": [-10, 0, 10, 20, 30, 40], "title": null}
        }
      }
    },
    {
      "data": {"name": "obs"},
      "mark": {"type": "point", "shape": "circle", "filled": true, "size": 44, "color": "#7e6560", "fillOpacity": 0.2, "stroke": "#7e6560", "strokeOpacity": 0.22, "strokeWidth": 1},
      "encoding": {"y": {"field": "y", "type": "quantitative"}}
    },
    {
      "data": {"name": "sm"},
      "mark": {"type": "line", "color": "#1f77b4", "strokeWidth": 2.2},
      "encoding": {"y": {"field": "b", "type": "quantitative"}}
    },
    {
      "data": {"name": "sm"},
      "mark": {"type": "line", "color": "#2ca02c", "strokeWidth": 2.2},
      "encoding": {"y": {"field": "g", "type": "quantitative"}}
    },
    {
      "data": {"name": "sm"},
      "mark": {"type": "line", "color": "#e377c2", "strokeWidth": 2.2},
      "encoding": {"y": {"field": "p", "type": "quantitative"}}
    },
    {
      "data": {"name": "sm"},
      "mark": {"type": "line", "color": "#bcbd22", "strokeWidth": 3}, 
      "encoding": {"y": {"field": "o", "type": "quantitative"}}
    }
  ],
  "config": {
    "font": "DejaVu Sans",
    "view": {"stroke": "#222", "strokeWidth": 1},
    "axis": {
      "domain": false,
      "grid": false,
      "ticks": true,
      "tickSize": 5,
      "tickColor": "#222",
      "tickWidth": 1,
      "labelFont": "DejaVu Sans",
      "labelFontSize": 15,
      "labelColor": "#000",
      "labelPadding": 4
    }
  }
}
